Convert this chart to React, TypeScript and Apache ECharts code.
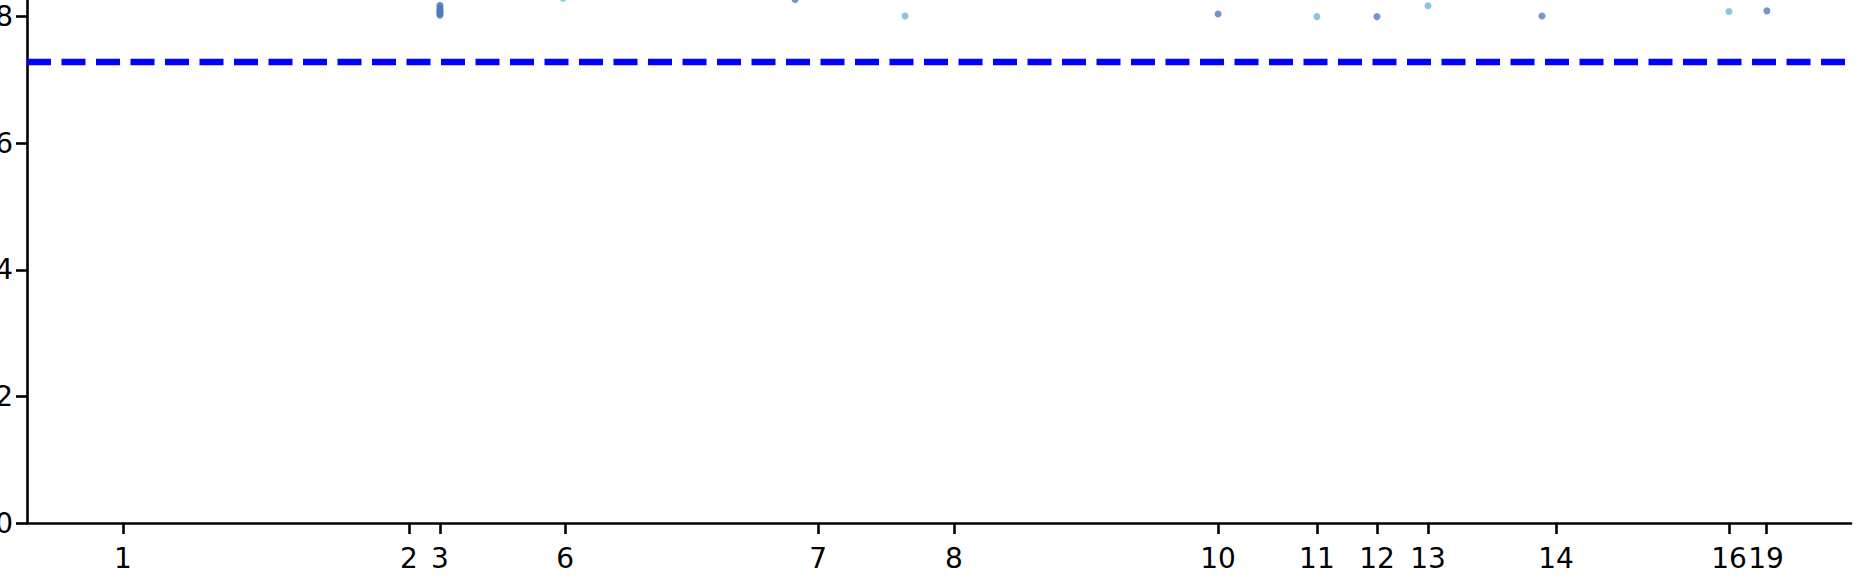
import React, { useEffect, useRef } from "react";
import * as echarts from "echarts";

// Chromosome tick labels and their centre positions along the genome axis (0–100 scale)
const chromLabels = ["1", "2", "3", "6", "7", "8", "10", "11", "12", "13", "14", "16", "19"];
const chromCenters = [5.26, 20.94, 22.64, 29.5, 43.37, 50.82, 65.3, 70.72, 74.01, 76.81, 83.83, 93.31, 95.34];

// Visible SNPs: chromosome, cumulative position, -log10(p)
const pointChrom = ["3", "3", "3", "3", "3", "3", "3", "3", "6", "7", "8", "10", "11", "12", "13", "14", "16", "19"];
const pointPos = [22.64, 22.64, 22.64, 22.64, 22.64, 22.64, 22.64, 22.64, 29.39, 42.11, 48.14, 65.3, 70.72, 74.01, 76.81, 83.06, 93.31, 95.39];
const pointLogP = [8.02, 8.04, 8.06, 8.08, 8.1, 8.12, 8.15, 8.18, 8.29, 8.27, 8.01, 8.04, 8.0, 8.0, 8.17, 8.01, 8.08, 8.09];

const yTicks = [0, 2, 4, 6, 8];
const threshold = 7.28;

const DARK = "#5179bf";
const LIGHT = "#6cb9d7";
const FONT = "DejaVu Sans";

export default function App() {
  const ref = useRef<HTMLDivElement>(null);

  useEffect(() => {
    if (!ref.current) return;
    const chart = echarts.init(ref.current, undefined, { renderer: "svg" });

    const data = pointPos.map((x, i) => {
      const ci = chromLabels.indexOf(pointChrom[i]);
      return {
        value: [x, pointLogP[i]],
        itemStyle: { color: ci % 2 === 0 ? DARK : LIGHT },
      };
    });

    chart.setOption({
      animation: false,
      grid: {
        left: 27,
        right: 9,
        top: -110,
        bottom: 55,
        containLabel: false,
        outerBoundsMode: "none",
      },
      xAxis: {
        type: "value",
        min: 0,
        max: 100,
        splitLine: { show: false },
        axisLine: { show: true, onZero: false, lineStyle: { color: "#000", width: 2.6 } },
        axisTick: {
          show: true,
          length: 11,
          lineStyle: { color: "#000", width: 2.6 },
          customValues: chromCenters,
        },
        axisLabel: {
          customValues: chromCenters,
          formatter: (v: number) => {
            const i = chromCenters.findIndex((c) => Math.abs(c - v) < 1e-6);
            return i >= 0 ? chromLabels[i] : "";
          },
          color: "#000",
          fontFamily: FONT,
          fontSize: 28,
          margin: 21,
        },
      },
      yAxis: {
        type: "value",
        min: 0,
        max: 10,
        interval: 2,
        splitLine: { show: false },
        axisLine: { show: true, lineStyle: { color: "#000", width: 2.6 } },
        axisTick: { show: true, length: 11, lineStyle: { color: "#000", width: 2.6 } },
        axisLabel: {
          color: "#000",
          fontFamily: FONT,
          fontSize: 28,
          margin: 14,
          formatter: (v: number) => (yTicks.includes(v) ? String(v) : ""),
        },
      },
      series: [
        {
          type: "scatter",
          symbol: "circle",
          symbolSize: 7,
          clip: false,
          data,
          markLine: {
            silent: true,
            symbol: "none",
            label: { show: false },
            lineStyle: { color: "#0000ff", width: 6.4, type: [24, 10.5], opacity: 1 },
            data: [{ yAxis: threshold }],
          },
        },
      ],
    });

    return () => chart.dispose();
  }, []);

  return (
    <div
      ref={ref}
      style={{ position: "fixed", left: 0, top: 0, width: 1860, height: 578, background: "#fff" }}
    />
  );
}
